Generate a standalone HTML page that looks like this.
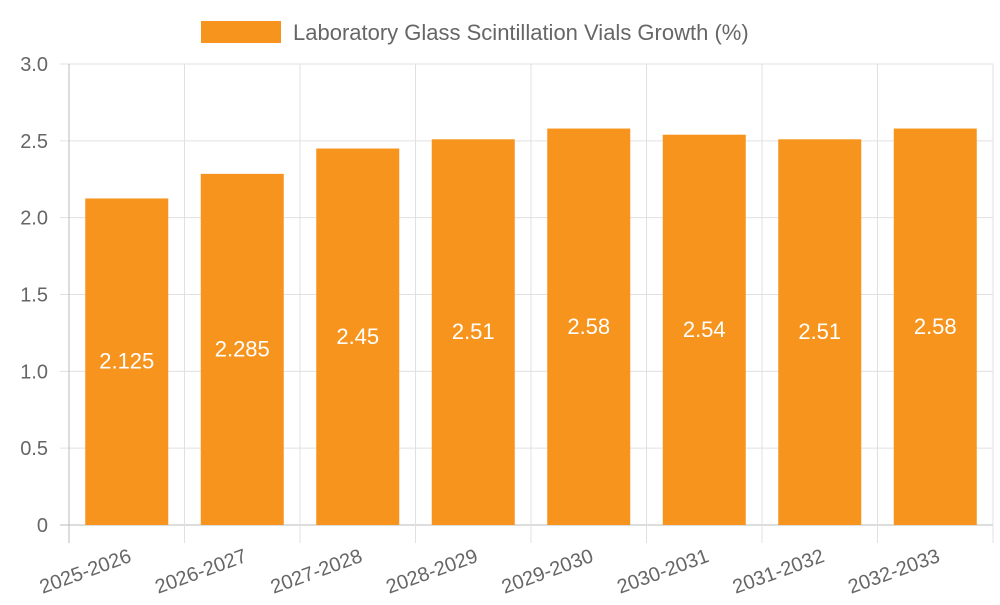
<!DOCTYPE html>
<html><head><meta charset="utf-8"><style>
body{margin:0;background:#fff;font-family:"Liberation Sans",sans-serif}
svg text{font-family:"Liberation Sans",sans-serif}
</style></head><body>
<svg id="c" width="1000" height="600"></svg>
<script>
const categories=["2025-2026","2026-2027","2027-2028","2028-2029","2029-2030","2030-2031","2031-2032","2032-2033"];
const values=[2.125,2.285,2.45,2.51,2.58,2.54,2.51,2.58];
const valueLabels=["2.125","2.285","2.45","2.51","2.58","2.54","2.51","2.58"];
const yTicks=[0,0.5,1,1.5,2,2.5,3];
const yTickLabels=["0","0.5","1.0","1.5","2.0","2.5","3.0"];
const NS="http://www.w3.org/2000/svg";
const svg=document.getElementById('c');
const L=69,R=993,T=64,B=525;
const bw=(R-L)/categories.length;
const y=v=>B-(v/3)*(B-T);
const xc=i=>L+bw*(i+0.5);
function mk(t,a,p){const e=document.createElementNS(NS,t);for(const k in a)e.setAttribute(k,a[k]);(p||svg).appendChild(e);return e;}
// grid
yTicks.forEach((t,i)=>{
 const g=mk('line',{x1:60,x2:R,y1:y(t),y2:y(t),stroke:i==0?'#bbb':'#e0e0e0','stroke-width':1});
 
 
 const tx=mk('text',{x:48,y:y(t)+7,'text-anchor':'end','font-size':20,fill:'#666'});
 tx.textContent=yTickLabels[i];
 
 
});
for(let i=0;i<=categories.length;i++){
 const g=mk('line',{x1:L+bw*i,x2:L+bw*i,y1:T,y2:543,stroke:i==0?'#bbb':'#e0e0e0','stroke-width':1});
 
 
}
categories.forEach((c,i)=>{
 const b=mk('rect',{x:xc(i)-41.5,y:y(values[i]),width:83,height:B-y(values[i]),fill:'#f7941e'});
 
 
 const vl=mk('text',{x:xc(i),y:(y(values[i])+B)/2+7,'text-anchor':'middle','font-size':22,fill:'#fff'});
 vl.textContent=valueLabels[i];
 
 
 const xl=mk('text',{transform:`translate(${xc(i)+1},${548}) rotate(-20)`,'text-anchor':'end','font-size':20,fill:'#666',dy:14});
 xl.textContent=c;
 
 
});
const lg=mk('rect',{x:201,y:21,width:80,height:22,fill:'#f7941e'});


const lt=mk('text',{x:293,y:40,'font-size':22,fill:'#666'});
lt.textContent="Laboratory Glass Scintillation Vials Growth (%)";


</script>
</body></html>
